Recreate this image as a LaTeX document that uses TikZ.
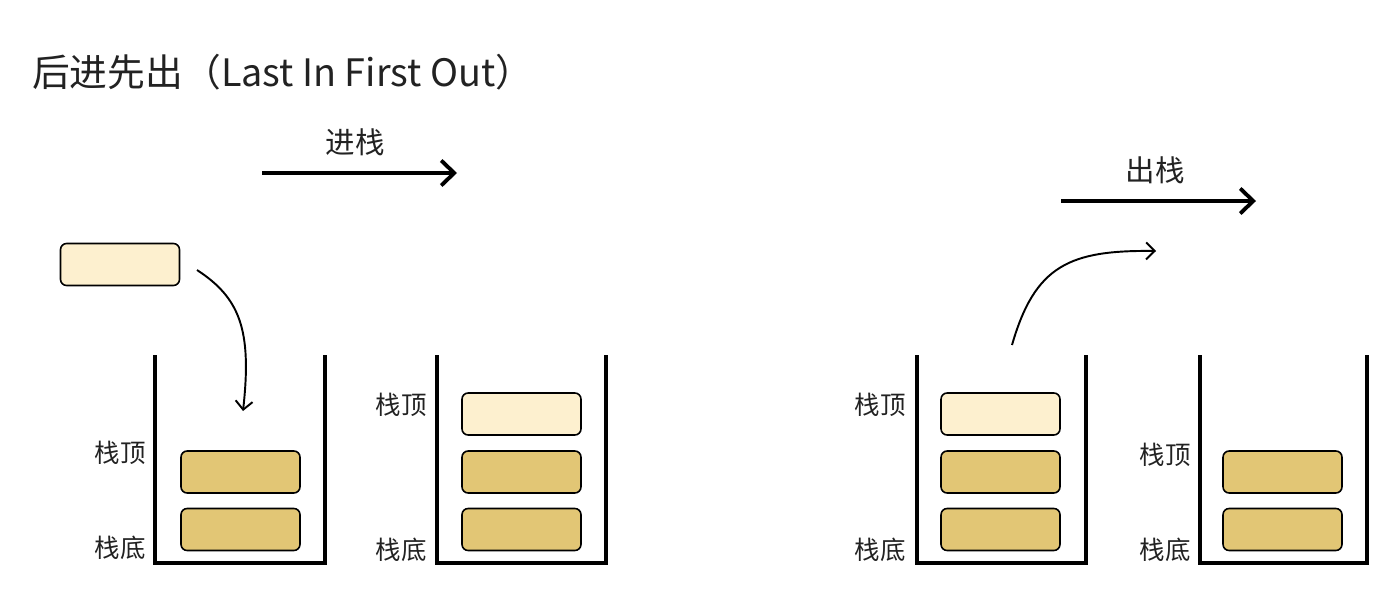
\documentclass[tikz,border=0pt]{standalone}
\usepackage{fontspec}
\setmainfont{Noto Sans CJK SC}
\usetikzlibrary{arrows.meta, positioning}
\definecolor{itemold}{HTML}{E2C675}
\definecolor{itemnew}{HTML}{FDF0CF}
\definecolor{ink}{HTML}{222222}

\begin{document}
\begin{tikzpicture}[x=0.02cm, y=-0.02cm,
  item/.style={rectangle, draw=black, line width=0.9pt, rounded corners=3.5pt, minimum width=2.38cm, minimum height=0.84cm, inner sep=0pt},
  old/.style={item, fill=itemold},
  new/.style={item, fill=itemnew},
  wall/.style={line width=2.3pt, black},
  tag/.style={font=\fontsize{14.5}{16}\selectfont, text=ink},
  step label/.style={font=\fontsize{16.8}{18}\selectfont, text=ink},
  flow/.style={-{Straight Barb[length=2.6mm, width=5mm]}, line width=2.2pt},
  move/.style={-{Straight Barb[length=1.7mm, width=3.4mm]}, line width=1.1pt}
]
\useasboundingbox (0,0) rectangle (1392,615);

\node[anchor=west, font=\fontsize{21.5}{24}\selectfont, text=ink] (title) at (26,72) {后进先出（Last In First Out）};

% push
\node[step label] (pushtxt) at (355,142) {进栈};
\coordinate (push0) at (262,173);
\coordinate (push1) at (457,173);
\draw[flow] (push0) -- (push1);

\node[new] (incoming) at (120,264.5) {};
\coordinate (drop0) at (197,270);
\coordinate (drop1) at (243,411);
\draw[move] (drop0) .. controls (240,298) and (252,330) .. (drop1);

\draw[wall] (155,355) -- (155,563) -- (325,563) -- (325,355);
\node[old] (s1b) at (240.5,529.5) {};
\node[old] (s1a) at (240.5,472) {};
\node[tag] (s1top) at (120,453) {栈顶};
\node[tag] (s1bot) at (120,548) {栈底};

\draw[wall] (437,355) -- (437,563) -- (606,563) -- (606,355);
\node[old] (s2b) at (521.5,529.5) {};
\node[old] (s2a) at (521.5,472) {};
\node[new] (s2c) at (521.5,414) {};
\node[tag] (s2top) at (401,405) {栈顶};
\node[tag] (s2bot) at (401,550) {栈底};

% pop
\node[step label] (poptxt) at (1155,170) {出栈};
\coordinate (pop0) at (1061,201);
\coordinate (pop1) at (1256,201);
\draw[flow] (pop0) -- (pop1);

\coordinate (lift0) at (1012,345);
\coordinate (lift1) at (1156,251);
\draw[move] (lift0) .. controls (1035,265) and (1070,250) .. (lift1);

\draw[wall] (917,355) -- (917,563) -- (1086,563) -- (1086,355);
\node[old] (s3b) at (1000.5,529.5) {};
\node[old] (s3a) at (1000.5,472) {};
\node[new] (s3c) at (1000.5,414) {};
\node[tag] (s3top) at (880,405) {栈顶};
\node[tag] (s3bot) at (880,550) {栈底};

\draw[wall] (1200,355) -- (1200,563) -- (1367,563) -- (1367,355);
\node[old] (s4b) at (1282.5,529.5) {};
\node[old] (s4a) at (1282.5,472) {};
\node[tag] (s4top) at (1165,455) {栈顶};
\node[tag] (s4bot) at (1165,550) {栈底};
\end{tikzpicture}
\end{document}
